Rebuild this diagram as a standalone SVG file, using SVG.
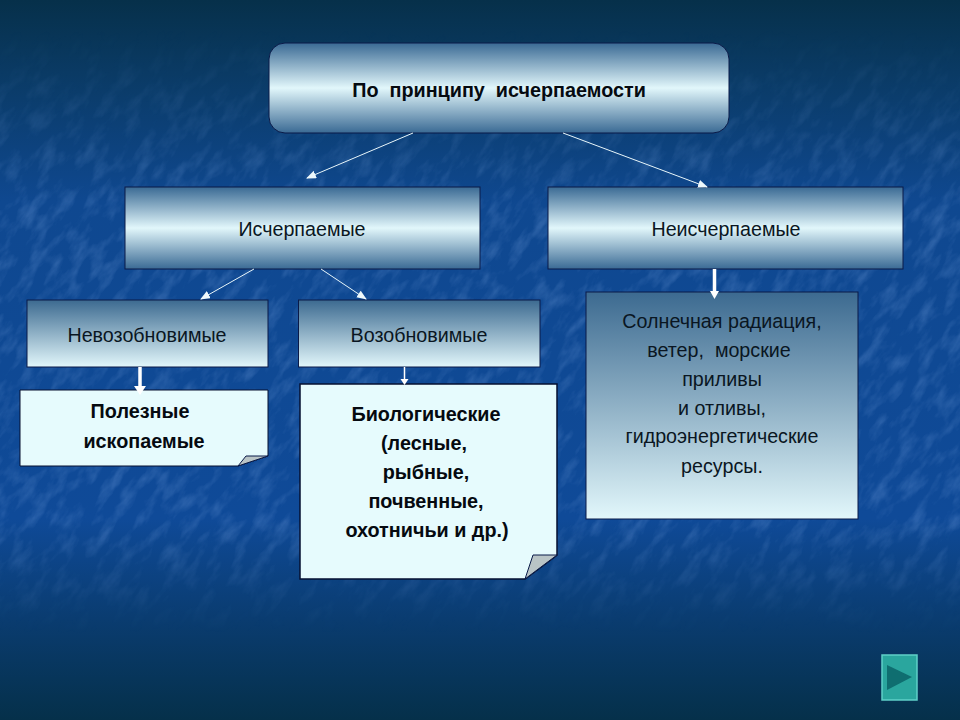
<svg xmlns="http://www.w3.org/2000/svg" width="960" height="720" viewBox="0 0 960 720">
<style>
text{font-family:"Liberation Sans",Arial,sans-serif;fill:#0a1622;text-anchor:middle}
.r{font-size:19.700px}
.b{font-size:19.800px;font-weight:bold;fill:#050a10}
.box{stroke:#0a1a48;stroke-width:1}
.thin{stroke:#e8f6fa;stroke-width:1;fill:none;marker-end:url(#ah)}
.thick{stroke:#fff;stroke-width:3.500;fill:none}
.note{fill:#e6fbfd;stroke:#061030;stroke-width:1.500}
.fold{fill:#b9c4c6;stroke:#0a1a48;stroke-width:1}
</style>
<defs>
<linearGradient id="bg" x1="0" y1="0" x2="0" y2="1">
<stop offset="0" stop-color="#06304a"/><stop offset="0.1" stop-color="#0a3a64"/><stop offset="0.28" stop-color="#0f4890"/><stop offset="0.72" stop-color="#0f4a98"/><stop offset="0.86" stop-color="#0a3c70"/><stop offset="1" stop-color="#05304a"/>
</linearGradient>
<linearGradient id="texfade" x1="0" y1="0" x2="0" y2="1">
<stop offset="0.04" stop-color="#000"/><stop offset="0.3" stop-color="#fff"/><stop offset="0.72" stop-color="#fff"/><stop offset="0.88" stop-color="#000"/>
</linearGradient>
<mask id="texmask" maskUnits="userSpaceOnUse" x="0" y="0" width="960" height="720"><rect width="960" height="720" fill="url(#texfade)"/></mask>
<linearGradient id="g3" x1="0" y1="0" x2="0" y2="1">
<stop offset="0" stop-color="#3a6a94"/><stop offset="0.5" stop-color="#e2f7fb"/><stop offset="1" stop-color="#3a6a94"/>
</linearGradient>
<linearGradient id="g2" x1="0" y1="0" x2="0" y2="1">
<stop offset="0" stop-color="#3c6a90"/><stop offset="1" stop-color="#e2f7fb"/>
</linearGradient>
<filter id="tex" filterUnits="userSpaceOnUse" x="-400" y="-400" width="1800" height="1600">
<feTurbulence type="fractalNoise" baseFrequency="0.09 0.035" numOctaves="4" seed="11"/>
<feColorMatrix type="matrix" values="0 0 0 0 0.3  0 0 0 0 0.5  0 0 0 0 0.9  2.400 0 0 0 -1.050"/>
</filter>
<marker id="ah" markerUnits="userSpaceOnUse" markerWidth="11" markerHeight="9" refX="9" refY="4" orient="auto">
<path d="M0 0L10 4L0 8Z" fill="#eef8fb"/>
</marker>
</defs>
<g id="background">
<rect width="960" height="720" fill="url(#bg)"/>
<g mask="url(#texmask)"><rect x="-400" y="-400" width="1800" height="1600" filter="url(#tex)" opacity="0.22" transform="rotate(35 480 360)"/></g>
</g>
<g id="n-root">
<rect class="box" x="269" y="43" width="460" height="90" rx="16" fill="url(#g3)"/>
<text class="b" x="499" y="97" xml:space="preserve">По  принципу  исчерпаемости</text>
</g>
<g id="n-exhaustible">
<rect class="box" x="125" y="187" width="355" height="82" fill="url(#g3)"/>
<text class="r" x="302" y="236">Исчерпаемые</text>
</g>
<g id="n-inexhaustible">
<rect class="box" x="548" y="187" width="355" height="82" fill="url(#g3)"/>
<text class="r" x="726" y="236">Неисчерпаемые</text>
</g>
<g id="n-nonrenewable">
<rect class="box" x="27" y="300" width="241" height="67" fill="url(#g2)"/>
<text class="r" x="147" y="342">Невозобновимые</text>
</g>
<g id="n-renewable">
<rect class="box" x="298.500" y="300" width="241.500" height="67" fill="url(#g2)"/>
<text class="r" x="419" y="342">Возобновимые</text>
</g>
<g id="n-solar">
<rect class="box" x="586" y="292" width="272" height="227" fill="url(#g2)"/>
<text class="r" x="722" y="328">Солнечная радиация,</text>
<text class="r" x="719" y="357" xml:space="preserve">ветер,  морские</text>
<text class="r" x="722" y="386">приливы</text>
<text class="r" x="722" y="415">и отливы,</text>
<text class="r" x="722" y="443">гидроэнергетические</text>
<text class="r" x="722" y="473">ресурсы.</text>
</g>
<g id="n-minerals">
<path class="note" style="stroke-width:1" d="M20 390H268V456L238 466H20Z"/>
<path class="fold" d="M238 466L246 456L268 456Z"/>
<text class="b" x="140" y="418">Полезные</text>
<text class="b" x="144" y="448">ископаемые</text>
</g>
<g id="n-biological">
<path class="note" d="M300 384H557V555L525 579H300Z"/>
<path class="fold" d="M525 579L533 555L557 555Z"/>
<text class="b" x="426" y="421">Биологические</text>
<text class="b" x="424" y="450">(лесные,</text>
<text class="b" x="426" y="479">рыбные,</text>
<text class="b" x="426" y="508">почвенные,</text>
<text class="b" x="427" y="537">охотничьи и др.)</text>
</g>
<g id="n-button">
<rect x="882" y="655" width="35" height="45" fill="#2aa69e" stroke="#5fd0c8" stroke-width="1.500"/>
<path d="M887 665L912 677L887 690Z" fill="#0f6e70"/>
</g>
<g id="connectors">
<path class="thin" d="M413 133L307 178"/>
<path class="thin" d="M563 133L707 187"/>
<path class="thin" d="M254 269L201 299"/>
<path class="thin" d="M321 269L366 299"/>
<path d="M140 367V387" class="thick"/>
<path d="M134 386H146L140 395Z" fill="#fff"/>
<path d="M404.500 367V379" stroke="#fff" stroke-width="1.500" fill="none"/>
<path d="M400.500 379H408.500L404.500 385Z" fill="#fff"/>
<path d="M714.500 269V292" class="thick"/>
<path d="M710 291H719L714.500 299Z" fill="#fff"/>
</g>
</svg>
